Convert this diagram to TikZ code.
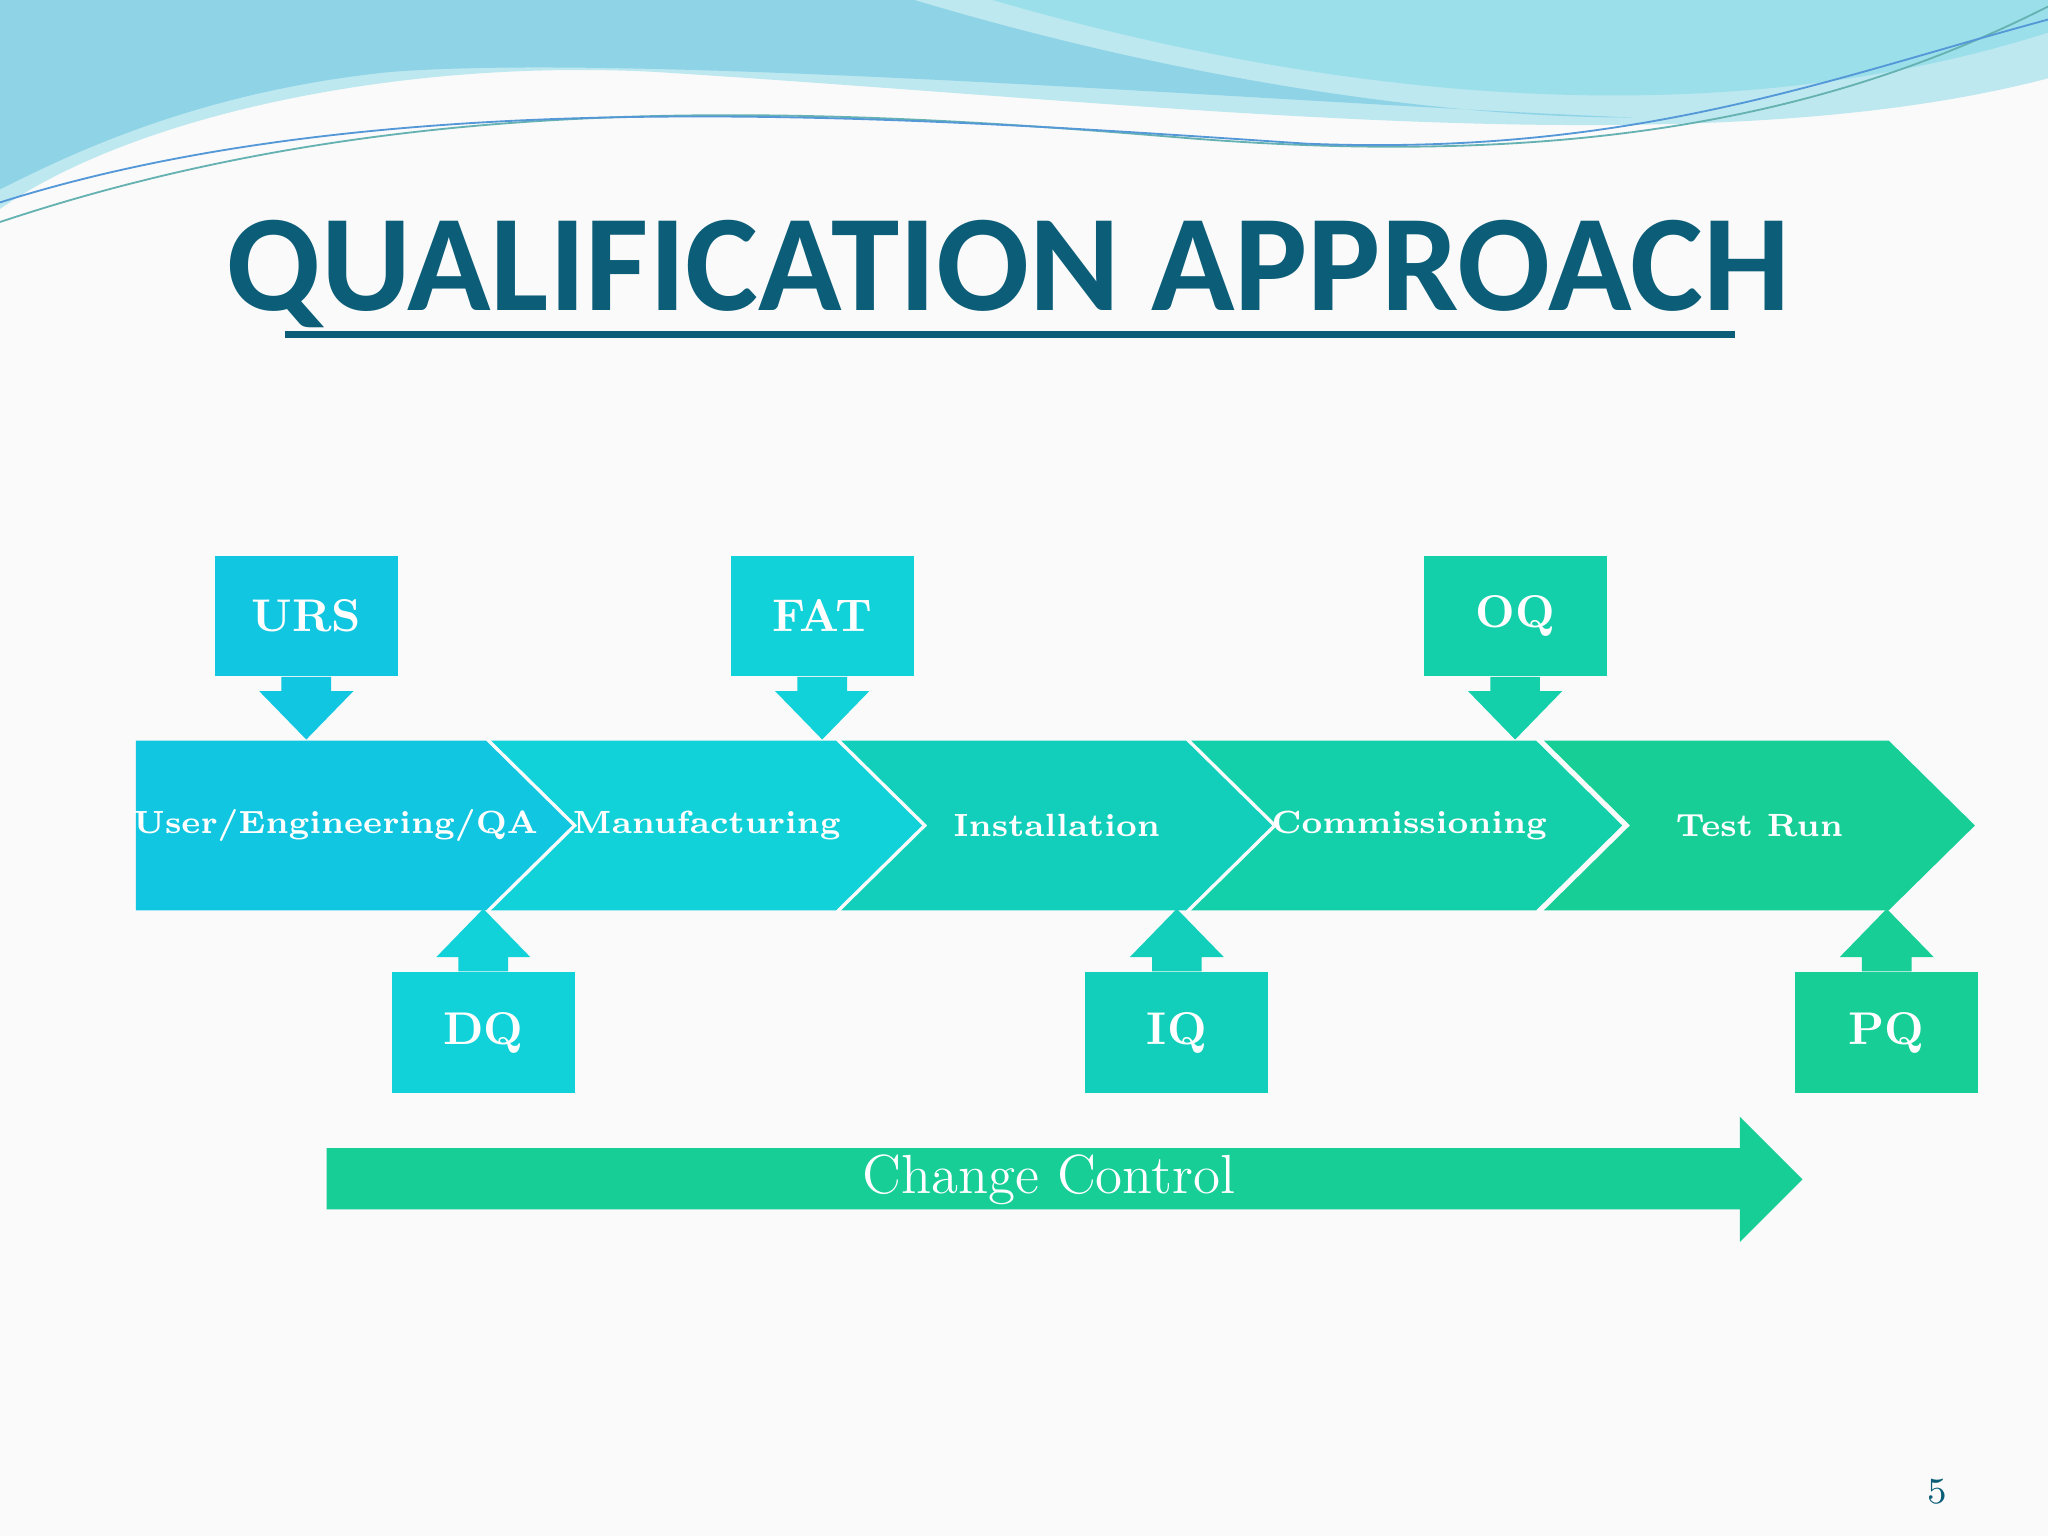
\documentclass[tikz,border=0pt]{standalone}
\usepackage{fontspec}
\newfontfamily\titlefont{Carlito}
\usetikzlibrary{positioning,calc}
\definecolor{cyanA}{HTML}{10C6E0}
\definecolor{cyanB}{HTML}{10D2D8}
\definecolor{greenA}{HTML}{12CFBC}
\definecolor{greenB}{HTML}{14D0AA}
\definecolor{greenC}{HTML}{16CE96}
\definecolor{titleblue}{HTML}{0B5D78}
\definecolor{waveA}{HTML}{8ED3E6}
\definecolor{waveB}{HTML}{BDE8F0}
\definecolor{waveC}{HTML}{9ADFEA}
\tikzset{
  callout/.style={minimum width=1.4cm, minimum height=0.92cm, inner sep=0pt,
    text=white, font=\bfseries\fontsize{10}{10}\selectfont},
  steptext/.style={text=white, font=\bfseries\fontsize{7}{7}\selectfont},
}
% block arrow below (dir=-1) or above (dir=1) a box
\newcommand{\boxarrow}[3]{%
  \fill[#3] ($(#1)+(-0.19,0)$) -- ++(0,#2*0.11) -- ++(-0.17,0)
    -- ($(#1)+(0,#2*0.48)$) -- ($(#1)+(0.36,#2*0.11)$) -- ++(-0.17,0)
    -- ++(0,-#2*0.11) -- cycle;}
\begin{document}
\begin{tikzpicture}[y=-1cm]
   \useasboundingbox (0,0) rectangle (15.68,11.76);
   \fill[white!94!gray!60] (0,0) rectangle (15.68,11.76);

   % waves on top
   \fill[waveB] (0,0) -- (15.68,0) -- (15.68,0.6)
     .. controls (13,1.3) and (9,0.8) .. (5,0.55) .. controls (3,0.45) and (1,0.9) .. (0,1.6) -- cycle;
   \fill[waveA] (0,0) -- (7,0) .. controls (9,0.6) and (11,0.9) .. (12.5,0.9)
     .. controls (10,0.8) and (5,0.4) .. (3,0.55) .. controls (1.5,0.7) and (0.5,1.2) .. (0,1.45) -- cycle;
   \fill[waveC] (7.6,0) .. controls (10,0.7) and (13,1.1) .. (15.68,0.25) -- (15.68,0) -- cycle;
   \draw[teal!60, thin] (0,1.7) .. controls (3,0.7) and (6,0.8) .. (9,1.05) .. controls (12,1.3) and (14,0.9) .. (15.68,0.05);
   \draw[cyan!60!blue!70, thin] (0,1.55) .. controls (3,0.6) and (7,0.9) .. (10,1.1) .. controls (12.5,1.2) and (14,0.6) .. (15.68,0.15);

   % title
   \node[text=titleblue, font=\titlefont\bfseries\fontsize{30}{30}\selectfont] (title) at (7.72,2.1) {QUALIFICATION APPROACH};
   \draw[titleblue, line width=1.6pt] (2.18,2.56) -- (13.28,2.56);

   % chevron band
   \fill[cyanA] (1.04,5.67) -- (3.72,5.67) -- (4.38,6.32) -- (3.72,6.97) -- (1.04,6.97) -- cycle;
   \foreach \x/\c in {3.76/cyanB, 6.44/greenA, 9.12/greenB, 11.82/greenC}
     \fill[\c] (\x,5.67) -- ++(2.64,0) -- ++(0.66,0.65) -- ++(-0.66,0.65) -- ++(-2.64,0) -- ++(0.66,-0.65) -- cycle;
   \node[steptext] (user) at (2.57,6.32) {User/Engineering/QA};
   \node[steptext] (manu) at (5.41,6.32) {Manufacturing};
   \node[steptext] (inst) at (8.09,6.32) {Installation};
   \node[steptext] (comm) at (10.79,6.32) {Commissioning};
   \node[steptext] (test) at (13.47,6.32) {Test Run};

   % callouts
   \node[callout, fill=cyanA] (urs) at (2.345,4.715) {URS};
   \node[callout, fill=cyanB] (fat) at (6.295,4.715) {FAT};
   \node[callout, fill=greenB] (oq) at (11.6,4.715) {OQ};
   \node[callout, fill=cyanB] (dq) at (3.7,7.905) {DQ};
   \node[callout, fill=greenA] (iq) at (9.01,7.905) {IQ};
   \node[callout, fill=greenC] (pq) at (14.445,7.905) {PQ};
   \boxarrow{urs.south}{1}{cyanA}
   \boxarrow{fat.south}{1}{cyanB}
   \boxarrow{oq.south}{1}{greenB}
   \boxarrow{dq.north}{-1}{cyanB}
   \boxarrow{iq.north}{-1}{greenA}
   \boxarrow{pq.north}{-1}{greenC}

   % change control
   \fill[greenC] (2.5,8.79) -- (13.32,8.79) -- (13.32,8.55) -- (13.8,9.03)
     -- (13.32,9.51) -- (13.32,9.26) -- (2.5,9.26) -- cycle;
   \node[text=white, font=\fontsize{12}{12}\selectfont] (change) at (8.03,9.03) {Change Control};

   \node[text=titleblue, font=\fontsize{8}{8}\selectfont] (page) at (14.83,11.42) {5};
\end{tikzpicture}
\end{document}
